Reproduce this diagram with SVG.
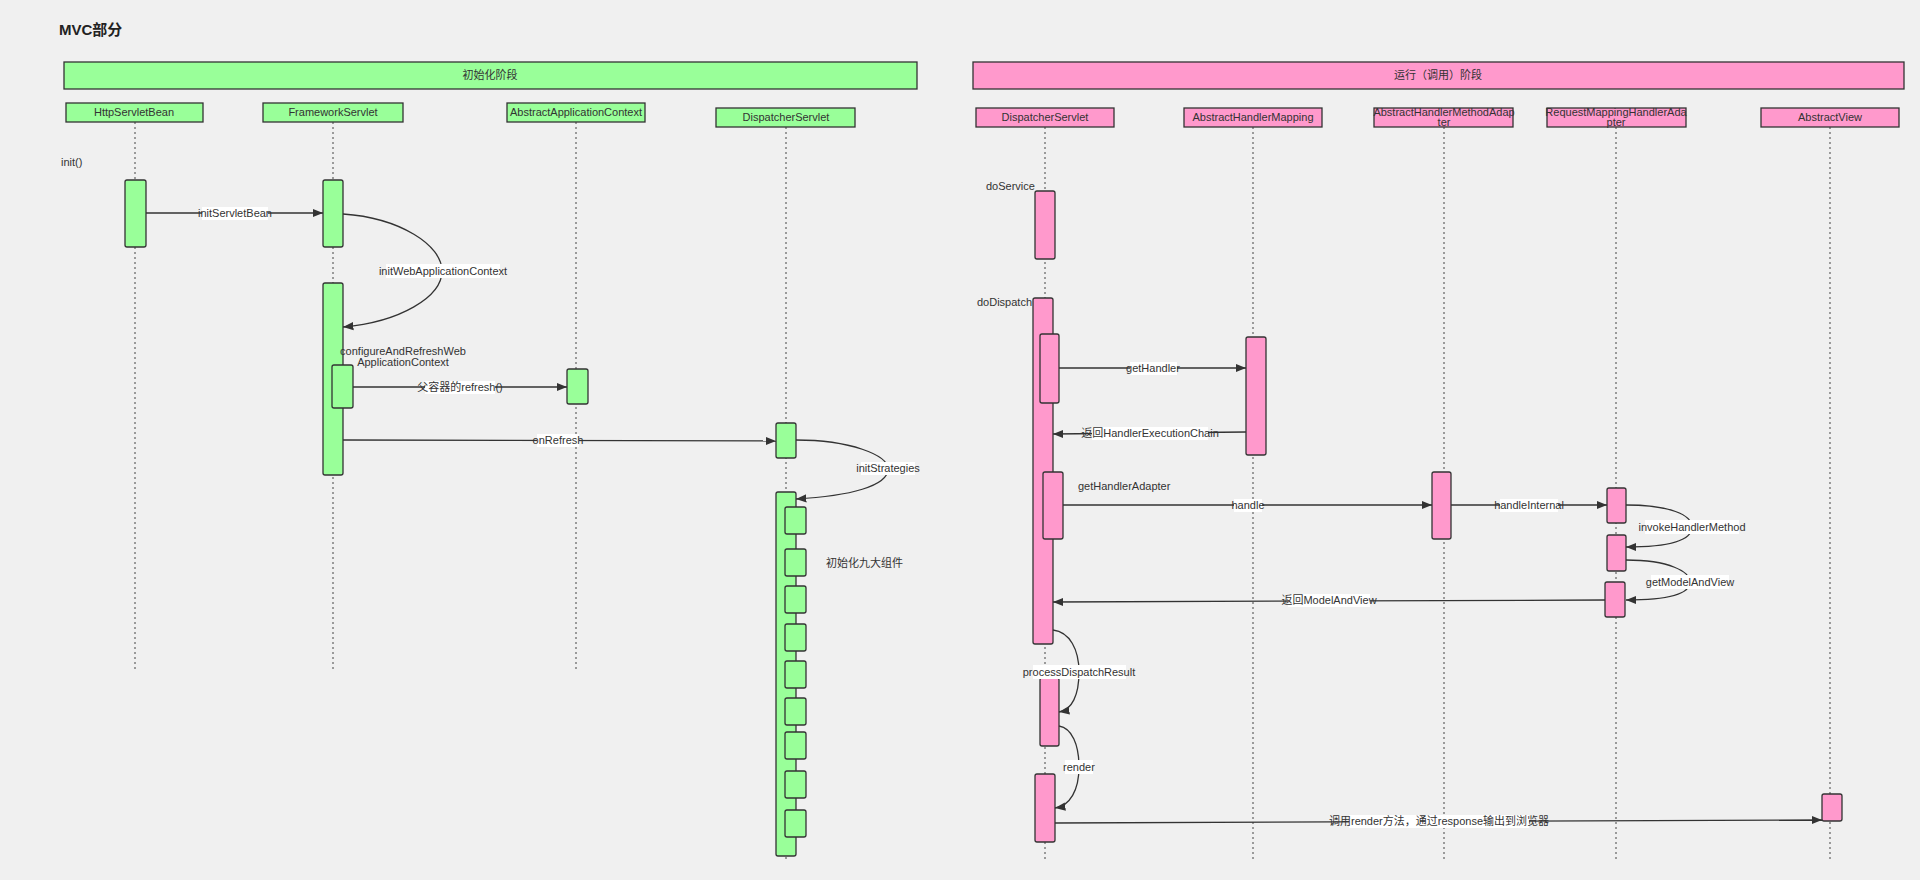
<svg xmlns="http://www.w3.org/2000/svg" width="1920" height="880" viewBox="0 0 1920 880">
<style>
text{font-family:"Liberation Sans","Noto Sans CJK SC",sans-serif;font-size:11px;fill:#333}
.g{fill:#99ff99;stroke:#333;stroke-width:1.3}
.p{fill:#ff99cc;stroke:#333;stroke-width:1.3}
.life{stroke:#444;stroke-width:1;stroke-dasharray:2,3;fill:none}
.c{stroke:#333;stroke-width:1.3;fill:none;marker-end:url(#a)}
.lb{fill:#fff}
.m{text-anchor:middle}
</style>
<defs><marker id="a" viewBox="0 0 10 10" refX="10" refY="5" markerWidth="8" markerHeight="8" orient="auto"><path d="M0,1L10,5L0,9z" fill="#333"/></marker></defs>
<rect width="1920" height="880" fill="#f0f0f0"/>
<text x="59" y="35" style="font-size:15px;font-weight:bold;fill:#222">MVC部分</text>
<g id="lifelines">
<path class="life" d="M135 122V671M333 122V671M576 122V671M786 127V860M1045 127V862M1253 127V862M1444 127V862M1616 127V862M1830 127V862"/>
</g>
<g id="banner-init"><rect class="g" x="64" y="62" width="853" height="27"/><text class="m" x="490" y="79">初始化阶段</text></g>
<g id="banner-run"><rect class="p" x="973" y="62" width="931" height="27"/><text class="m" x="1438" y="79">运行（调用）阶段</text></g>
<g id="h-HttpServletBean"><rect class="g" x="66" y="103" width="137" height="19"/><text class="m" x="134" y="116">HttpServletBean</text></g>
<g id="h-FrameworkServlet"><rect class="g" x="263" y="103" width="140" height="19"/><text class="m" x="333" y="116">FrameworkServlet</text></g>
<g id="h-AAC"><rect class="g" x="507" y="103" width="138" height="19"/><text class="m" x="576" y="116">AbstractApplicationContext</text></g>
<g id="h-DS1"><rect class="g" x="716" y="108" width="139" height="19"/><text class="m" x="786" y="121">DispatcherServlet</text></g>
<g id="h-DS2"><rect class="p" x="976" y="108" width="138" height="19"/><text class="m" x="1045" y="121">DispatcherServlet</text></g>
<g id="h-AHM"><rect class="p" x="1184" y="108" width="138" height="19"/><text class="m" x="1253" y="121">AbstractHandlerMapping</text></g>
<g id="h-AHMA"><rect class="p" x="1374" y="108" width="139" height="19"/><text class="m" x="1444" y="116">AbstractHandlerMethodAdap</text><text class="m" x="1444" y="126">ter</text></g>
<g id="h-RMHA"><rect class="p" x="1547" y="108" width="139" height="19"/><text class="m" x="1616" y="116">RequestMappingHandlerAda</text><text class="m" x="1616" y="126">pter</text></g>
<g id="h-AV"><rect class="p" x="1761" y="108" width="138" height="19"/><text class="m" x="1830" y="121">AbstractView</text></g>
<g id="activations">
<rect class="g" x="125" y="180" width="21" height="67" rx="2"/>
<rect class="g" x="323" y="180" width="20" height="67" rx="2"/>
<rect class="g" x="323" y="283" width="20" height="192" rx="2"/>
<rect class="g" x="332" y="365" width="21" height="43" rx="2"/>
<rect class="g" x="567" y="369" width="21" height="35" rx="2"/>
<rect class="g" x="776" y="423" width="20" height="35" rx="2"/>
<rect class="g" x="776" y="492" width="20" height="364" rx="2"/>
<rect class="g" x="785" y="507" width="21" height="27" rx="2"/>
<rect class="g" x="785" y="549" width="21" height="27" rx="2"/>
<rect class="g" x="785" y="586" width="21" height="27" rx="2"/>
<rect class="g" x="785" y="624" width="21" height="27" rx="2"/>
<rect class="g" x="785" y="661" width="21" height="27" rx="2"/>
<rect class="g" x="785" y="698" width="21" height="27" rx="2"/>
<rect class="g" x="785" y="732" width="21" height="27" rx="2"/>
<rect class="g" x="785" y="771" width="21" height="27" rx="2"/>
<rect class="g" x="785" y="810" width="21" height="27" rx="2"/>
<rect class="p" x="1035" y="191" width="20" height="68" rx="2"/>
<rect class="p" x="1033" y="298" width="20" height="346" rx="2"/>
<rect class="p" x="1040" y="334" width="19" height="69" rx="2"/>
<rect class="p" x="1246" y="337" width="20" height="118" rx="2"/>
<rect class="p" x="1043" y="472" width="20" height="67" rx="2"/>
<rect class="p" x="1432" y="472" width="19" height="67" rx="2"/>
<rect class="p" x="1607" y="488" width="19" height="35" rx="2"/>
<rect class="p" x="1607" y="535" width="19" height="36" rx="2"/>
<rect class="p" x="1605" y="582" width="20" height="35" rx="2"/>
<rect class="p" x="1040" y="678" width="19" height="68" rx="2"/>
<rect class="p" x="1035" y="774" width="20" height="68" rx="2"/>
<rect class="p" x="1822" y="794" width="20" height="27" rx="2"/>
</g>
<g id="connectors">
<path class="c" d="M146 213H323"/>
<path class="c" d="M343 214C400 218 442 245 442 271C442 297 400 322 343 327"/>
<path class="c" d="M353 387H567"/>
<path class="c" d="M343 440L776 441"/>
<path class="c" d="M796 440C850 440 888 455 888 469C888 486 850 496 796 499"/>
<path class="c" d="M1059 368H1246"/>
<path class="c" d="M1246 432L1053 434"/>
<path class="c" d="M1063 505H1432"/>
<path class="c" d="M1451 505H1607"/>
<path class="c" d="M1626 505C1670 505 1692 515 1692 527C1692 540 1670 547 1626 547"/>
<path class="c" d="M1626 560C1670 560 1690 572 1690 582C1690 594 1670 600 1626 600"/>
<path class="c" d="M1605 600L1053 602"/>
<path class="c" d="M1053 630C1070 632 1079 650 1079 672C1079 695 1072 710 1059 712"/>
<path class="c" d="M1059 726C1072 728 1079 745 1079 767C1079 790 1070 806 1055 808"/>
<path class="c" d="M1055 823L1822 820"/>
</g>
<g id="labels">
<text x="61" y="166">init()</text>
<rect class="lb" x="202" y="207" width="66" height="13"/><text class="m" x="235" y="217">initServletBean</text>
<rect class="lb" x="386" y="264" width="114" height="14"/><text class="m" x="443" y="275">initWebApplicationContext</text>
<text class="m" x="403" y="355">configureAndRefreshWeb</text><text class="m" x="403" y="366">ApplicationContext</text>
<rect class="lb" x="425" y="381" width="70" height="13"/><text class="m" x="460" y="391">父容器的refresh()</text>
<rect class="lb" x="537" y="434" width="42" height="13"/><text class="m" x="558" y="444">onRefresh</text>
<rect class="lb" x="861" y="462" width="54" height="13"/><text class="m" x="888" y="472">initStrategies</text>
<text x="826" y="567">初始化九大组件</text>
<text x="986" y="190">doService</text>
<text x="977" y="306">doDispatch</text>
<rect class="lb" x="1130" y="362" width="47" height="13"/><text class="m" x="1153" y="372">getHandler</text>
<rect class="lb" x="1092" y="427" width="116" height="13"/><text class="m" x="1150" y="437">返回HandlerExecutionChain</text>
<text x="1078" y="490">getHandlerAdapter</text>
<rect class="lb" x="1234" y="499" width="28" height="13"/><text class="m" x="1248" y="509">handle</text>
<rect class="lb" x="1500" y="499" width="58" height="13"/><text class="m" x="1529" y="509">handleInternal</text>
<rect class="lb" x="1645" y="520" width="94" height="14"/><text class="m" x="1692" y="531">invokeHandlerMethod</text>
<rect class="lb" x="1651" y="575" width="78" height="14"/><text class="m" x="1690" y="586">getModelAndView</text>
<rect class="lb" x="1288" y="594" width="82" height="13"/><text class="m" x="1329" y="604">返回ModelAndView</text>
<rect class="lb" x="1033" y="665" width="93" height="14"/><text class="m" x="1079" y="676">processDispatchResult</text>
<rect class="lb" x="1065" y="760" width="28" height="14"/><text class="m" x="1079" y="771">render</text>
<rect class="lb" x="1349" y="815" width="180" height="13"/><text class="m" x="1439" y="825">调用render方法，通过response输出到浏览器</text>
</g>
</svg>
